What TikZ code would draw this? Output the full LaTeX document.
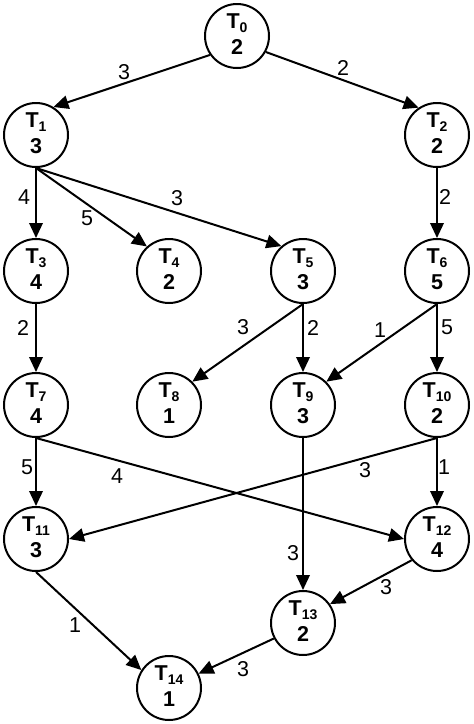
\documentclass[tikz,border=0pt]{standalone}
\usepackage{fontspec}
\setmainfont{Liberation Sans}
\usetikzlibrary{arrows.meta}
\newcommand\tsub[1]{\raisebox{-3.5pt}{\fontsize{14}{14}\selectfont #1}}
\newcommand\tlab[2]{T\tsub{#1}\\#2\rule[-3pt]{0pt}{3pt}}
\begin{document}
\begin{tikzpicture}[x=1pt,y=-1pt,
  task/.style={circle,draw,line width=2pt,minimum size=64pt,inner sep=0pt,align=center,
    font=\fontsize{21.5}{26}\selectfont\bfseries},
  edge/.style={line width=2pt,-{Triangle[length=15pt,width=13.5pt]}},
  lbl/.style={font=\fontsize{21.5}{21.5}\selectfont,inner sep=0pt}]
\useasboundingbox (0,0) rectangle (474,724);
\node[task] (T0) at (237,36) {\tlab{0}{2}};
\node[task] (T1) at (36,135) {\tlab{1}{3}};
\node[task] (T2) at (437,135) {\tlab{2}{2}};
\node[task] (T3) at (36,271) {\tlab{3}{4}};
\node[task] (T4) at (169,271) {\tlab{4}{2}};
\node[task] (T5) at (303,271) {\tlab{5}{3}};
\node[task] (T6) at (437,271) {\tlab{6}{5}};
\node[task] (T7) at (36,405) {\tlab{7}{4}};
\node[task] (T8) at (169,405) {\tlab{8}{1}};
\node[task] (T9) at (303,405) {\tlab{9}{3}};
\node[task] (T10) at (437,405) {\tlab{10}{2}};
\node[task] (T11) at (36,539) {\tlab{11}{3}};
\node[task] (T12) at (437,539) {\tlab{12}{4}};
\node[task] (T13) at (303,623) {\tlab{13}{2}};
\node[task] (T14) at (169,688) {\tlab{14}{1}};

\draw[edge] (T0.215) -- (T1.58) node[lbl] at (124,72) {3};
\draw[edge] (T0.-29) -- (T2.124) node[lbl] at (343,68) {2};
\draw[edge] (T1.south) -- (T3.north) node[lbl] at (24,197) {4};
\draw[edge] (T1.south) -- (T4.132) node[lbl] at (87,218) {5};
\draw[edge] (T1.south) -- (T5.131) node[lbl] at (177,198) {3};
\draw[edge] (T2.south) -- (T6.north) node[lbl] at (445,197) {2};
\draw[edge] (T3.south) -- (T7.north) node[lbl] at (23,328) {2};
\draw[edge] (T5.south) -- (T8.45) node[lbl] at (243,327) {3};
\draw[edge] (T5.south) -- (T9.north) node[lbl] at (313,328) {2};
\draw[edge] (T6.south) -- (T9.45) node[lbl] at (380,330) {1};
\draw[edge] (T6.south) -- (T10.north) node[lbl] at (447,327) {5};
\draw[edge] (T7.south) -- (T11.north) node[lbl] at (27,467) {5};
\draw[edge] (T7.south) -- (T12.west) node[lbl] at (117,476) {4};
\draw[edge] (T10.south) -- (T11.east) node[lbl] at (365,470) {3};
\draw[edge] (T10.south) -- (T12.north) node[lbl] at (444,467) {1};
\draw[edge] (T9.south) -- (T13.north) node[lbl] at (293,553) {3};
\draw[edge] (T12.220) -- (T13.35) node[lbl] at (386,587) {3};
\draw[edge] (T11.south) -- (T14.147) node[lbl] at (75,625) {1};
\draw[edge] (T13.208) -- (T14.26) node[lbl] at (243,669) {3};
\end{tikzpicture}
\end{document}
